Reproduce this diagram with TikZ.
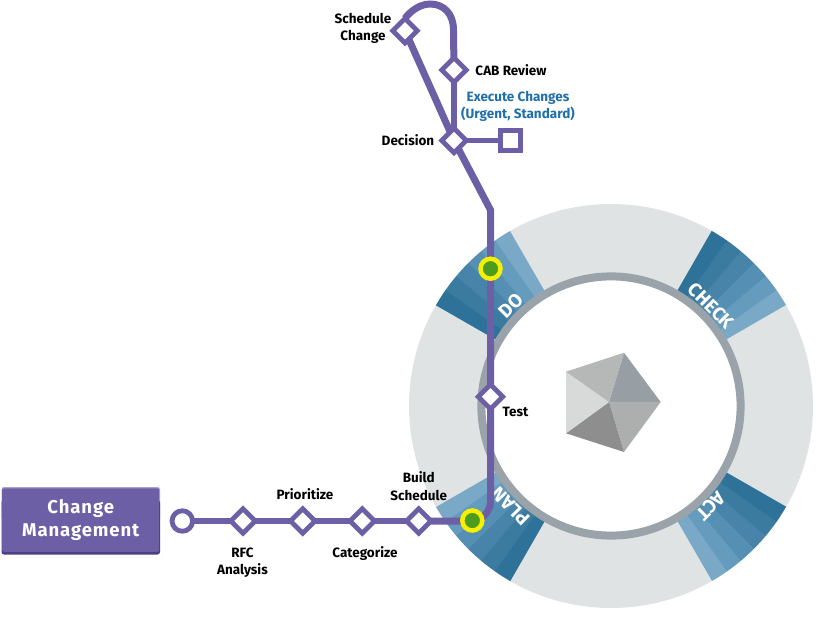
\documentclass[tikz,border=0pt]{standalone}
\usepackage{fontspec}
\setmainfont{Fira Sans}
\usetikzlibrary{calc, shapes.geometric}
\definecolor{Metro}{HTML}{6C5FA5}
\definecolor{MetroDark}{HTML}{4B4185}
\definecolor{MetroLight}{HTML}{A9A2C9}
\definecolor{Ring}{HTML}{E0E3E4}
\definecolor{RingEdge}{HTML}{9AA3A9}
\definecolor{BandA}{HTML}{7AA9C7}
\definecolor{BandB}{HTML}{659BBC}
\definecolor{BandC}{HTML}{558FB3}
\definecolor{BandD}{HTML}{4884A9}
\definecolor{BandE}{HTML}{3C7BA0}
\definecolor{BandF}{HTML}{2E7299}
\definecolor{Execute}{HTML}{1F6FA8}
\definecolor{Dot}{HTML}{4D9B1F}
\definecolor{DotEdge}{HTML}{F5F000}
\definecolor{FacetA}{HTML}{B5B8B7}
\definecolor{FacetB}{HTML}{979FA4}
\definecolor{FacetC}{HTML}{ADAFAE}
\definecolor{FacetD}{HTML}{8E8E8E}
\definecolor{FacetE}{HTML}{D8DADA}
\tikzset{
  metroline/.style={draw=Metro, line width=7pt},
  station/.style={diamond, draw=Metro, fill=white, line width=4.8pt, minimum size=24.5pt, inner sep=0pt, outer sep=0pt},
  terminal/.style={circle, draw=Metro, fill=white, line width=4.8pt, minimum size=20.5pt, inner sep=0pt, outer sep=0pt},
  stopbox/.style={rectangle, draw=Metro, fill=white, line width=4.8pt, minimum size=20pt, inner sep=0pt, outer sep=0pt},
  greendot/.style={circle, draw=DotEdge, fill=Dot, line width=4.5pt, minimum size=20pt, inner sep=0pt, outer sep=0pt},
  lbl/.style={font=\fontsize{13.5}{17.5}\selectfont\bfseries, align=center, inner sep=0pt},
  ringlbl/.style={font=\fontsize{19}{19}\selectfont\bfseries, text=white, inner sep=0pt}
}
\begin{document}
\begin{tikzpicture}[x=1pt, y=1pt]
\useasboundingbox (0,-617) rectangle (822,0);
\coordinate (hub) at (611,-406);
% ring, bands go light to dark with the angle
\fill[Ring] (hub) circle (202);
\foreach \base in {30,120,210,300}
  \foreach \i/\shade in {0/BandA,1/BandB,2/BandC,3/BandD,4/BandE,5/BandF}
    \fill[\shade] (hub) -- ++(\base+5*\i:202) arc[start angle=\base+5*\i, end angle=\base+5*\i+5.1, radius=202] -- cycle;
\draw[RingEdge, fill=white, line width=8pt] (hub) circle (129.6);
\node[ringlbl, rotate=45] (dolbl) at ($(hub)+(135:141.5)$) {DO};
\node[ringlbl, rotate=-45] (checklbl) at ($(hub)+(45:141.5)$) {CHECK};
\node[ringlbl, rotate=225] (actlbl) at ($(hub)+(-45:141.5)$) {ACT};
\node[ringlbl, rotate=135] (planlbl) at ($(hub)+(225:141.5)$) {PLAN};
% pentagon listed clockwise from the top
\coordinate (core) at (609,-402);
\coordinate (pa) at (624,-352.7);
\coordinate (pb) at (660.7,-402);
\coordinate (pc) at (624,-452);
\coordinate (pd) at (566,-433.3);
\coordinate (pe) at (566,-371.7);
\fill[FacetB] (core) -- (pa) -- (pb) -- cycle;
\fill[FacetC] (core) -- (pb) -- (pc) -- cycle;
\fill[FacetD] (core) -- (pc) -- (pd) -- cycle;
\fill[FacetE] (core) -- (pd) -- (pe) -- cycle;
\fill[FacetA] (core) -- (pe) -- (pa) -- cycle;
% stops
\node[terminal] (start) at (182.3,-521) {};
\node[station] (rfc) at (243,-521) {};
\node[station] (prioritize) at (302.7,-521) {};
\node[station] (categorize) at (362.3,-521) {};
\node[station] (build) at (418.7,-521) {};
\node[station] (test) at (490.5,-396.7) {};
\node[station] (decision) at (454,-140.5) {};
\node[station] (cab) at (454,-70) {};
\node[station] (schedule) at (405,-30.7) {};
\node[stopbox] (execute) at (510.3,-140.5) {};
\coordinate (plancorner) at (490.5,-521);
\coordinate (dobend) at (490.5,-210);
\coordinate (looptop) at (430,-4);
\coordinate (loopside) at (453.5,-30);
% line from left to right, then up
\draw[metroline, line width=6pt] (start) -- (rfc);
\draw[metroline, line width=6pt] (rfc) -- (prioritize);
\draw[metroline, line width=6pt] (prioritize) -- (categorize);
\draw[metroline, line width=6pt] (categorize) -- (build);
\draw[metroline, rounded corners=20pt] (build) -- (plancorner) -- (test);
\draw[metroline] (test) -- (dobend) -- (decision);
\draw[metroline] (decision) -- (schedule);
\draw[metroline] (schedule.north) .. controls (408,-14) and (418,-4) .. (looptop) .. controls (444,-4) and (453.5,-14) .. (loopside) -- (cab);
\draw[metroline, line width=5.5pt] (cab) -- (decision);
\draw[metroline, line width=5.5pt] (decision) -- (execute);
% green dots sit on the line
\node[greendot] (plandot) at (472.3,-520.5) {};
\node[greendot] (dodot) at (490.5,-268.7) {};
% labels
\path (363,-28.5) node[lbl] (schedulelbl) {Schedule\\Change}
      (511,-70) node[lbl] (cablbl) {CAB Review}
      (518,-106.5) node[lbl, text=Execute] (executelbl) {Execute Changes\\(Urgent, Standard)}
      (408,-140.5) node[lbl] (decisionlbl) {Decision}
      (515.5,-411.5) node[lbl] (testlbl) {Test}
      (418.7,-486) node[lbl] (buildlbl) {Build\\Schedule}
      (305,-494.5) node[lbl] (prioritizelbl) {Prioritize}
      (365,-553.5) node[lbl] (categorizelbl) {Categorize}
      (242.5,-562.5) node[lbl] (rfclbl) {RFC\\Analysis};
% box
\fill[MetroLight, rounded corners=2.5pt] (1.5,-487) rectangle (160,-520);
\fill[MetroDark, rounded corners=2.5pt] (1.5,-500) rectangle (160,-554.5);
\node[fill=Metro, rounded corners=2pt, minimum width=157pt, minimum height=63.5pt, inner sep=0pt, text=white, align=center, font=\fontsize{18.5}{23}\selectfont\bfseries\addfontfeatures{LetterSpace=5}] (changebox) at (80.7,-520) {\raisebox{-1pt}{Change}\\\raisebox{-1pt}{Management}};
\end{tikzpicture}
\end{document}
